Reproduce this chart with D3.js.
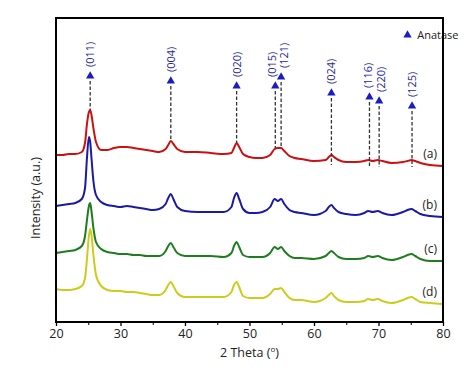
<!DOCTYPE html>
<html>
<head>
<meta charset="utf-8">
<script src="https://cdn.jsdelivr.net/npm/d3@7"></script>
<style>
    body { margin: 0; background: #fff; }
    text { font-family: "Open Sans", sans-serif; }
</style>
</head>
<body>
<svg id="chart"></svg>
<script>
// XRD patterns, four samples stacked with offsets
// --------------------------------------------------------

// 0. Data (intensity in a.u.)
    const twoTheta = [20, 21, 22, 23, 24, 24.5, 24.8, 25.1, 25.3, 25.5, 25.8, 26.2, 27, 28, 29, 30, 31, 32, 33, 34, 35, 36,
        37, 37.4, 37.8, 38.2, 38.8, 40, 42, 44, 46, 47.2, 47.6, 48.0, 48.4, 49, 50, 51, 52, 53.2, 53.9, 54.4, 54.9, 55.4,
        56.2, 57, 58, 60, 61.8, 62.3, 62.7, 63.1, 63.8, 65, 66.5, 67.8, 68.4, 69.1, 69.9, 70.6, 72, 73.8, 74.5, 75.1,
        75.7, 76.5, 78, 80];

    const sampleA = [167, 167, 168, 168, 170, 179, 198, 210, 212, 207, 194, 180, 172, 172, 174, 175, 175, 174, 173, 172, 171, 170,
        173, 177, 181, 178, 173, 170, 170, 169, 168, 169, 174, 179, 175, 168, 165, 164, 164, 167, 173, 174, 174, 171,
        166, 164, 163, 161, 162, 165, 167, 165, 162, 160, 160, 161, 162, 161, 162, 161, 159, 160, 161, 162,
        161, 159, 157, 156];
    const sampleB = [116, 117, 118, 119, 123, 134, 164, 185, 180, 164, 141, 127, 120, 117, 116, 115, 116, 115, 114, 113, 112, 113,
        118, 124, 128, 123, 115, 111, 110, 110, 110, 115, 124, 129, 123, 113, 109, 109, 110, 115, 123, 121, 123, 118,
        112, 110, 109, 107, 111, 115, 117, 114, 110, 108, 107, 109, 111, 110, 111, 109, 107, 110, 112, 113,
        111, 108, 106, 105];
    const sampleC = [69, 70, 71, 72, 76, 86, 102, 116, 119, 111, 94, 80, 73, 70, 69, 68, 68, 67, 67, 66, 66, 66,
        71, 76, 79, 75, 69, 66, 66, 66, 65, 69, 76, 80, 75, 67, 65, 65, 65, 69, 75, 73, 75, 71,
        66, 64, 64, 63, 66, 69, 71, 69, 65, 63, 63, 64, 66, 65, 66, 64, 62, 65, 67, 68,
        66, 63, 61, 61];
    const sampleD = [33, 32, 32, 33, 36, 44, 63, 86, 93, 87, 67, 47, 36, 32, 31, 31, 30, 30, 29, 28, 27, 27,
        32, 37, 40, 36, 29, 25, 25, 25, 25, 30, 37, 40, 35, 26, 24, 24, 24, 28, 33, 33, 34, 30,
        24, 22, 22, 20, 24, 27, 29, 26, 22, 20, 20, 21, 23, 22, 23, 21, 19, 22, 24, 25,
        23, 20, 19, 18];

    const sampleNames = ['(a)', '(b)', '(c)', '(d)'];
    const sampleColors = ['#cc1010', '#1a1aa6', '#1f7d1f', '#cccc1c'];

    // anatase reflections
    const peakLabels = ['(011)', '(004)', '(020)', '(015)', '(121)', '(024)', '(116)', '(220)', '(125)'];
    const peakPositions = [25.3, 37.8, 48.0, 54.0, 54.9, 62.7, 68.6, 70.1, 75.2];
    const markerLevels = [246, 241, 236, 236, 245, 229, 225, 221, 216];
    const dropLevels = [212, 182, 179, 174, 174, 157, 155, 155, 155];

    const xTicks = [20, 30, 40, 50, 60, 70, 80];
    const xMinorTicks = [25, 35, 45, 55, 65, 75];

// 1. SVG canvas
    const width = 474;
    const height = 378;
    const padding = { top: 18, right: 31, bottom: 56, left: 56 };

    const svg = d3.select('#chart')
        .attr('width', width)
        .attr('height', height);

// 2. Scales
    const xScale = d3.scaleLinear()
        .domain([20, 80])
        .range([padding.left, width - padding.right]);
    const yScale = d3.scaleLinear()
        .domain([0, 304])
        .range([height - padding.bottom, padding.top]);

    const series = [sampleA, sampleB, sampleC, sampleD].map((vals, i) => ({
        name: sampleNames[i],
        color: sampleColors[i],
        points: twoTheta.map((t, j) => [t, vals[j]])
    }));

// 3. Draw traces
    const line = d3.line()
        .x(d => xScale(d[0]))
        .y(d => yScale(d[1]))
        .curve(d3.curveMonotoneX);

    svg.selectAll('.trace')
        .data(series.slice().reverse())
        .enter()
        .append('path')
            .attr('class', 'trace')
            .attr('d', d => line(d.points))
            .attr('fill', 'none')
            .attr('stroke', d => d.color)
            .attr('stroke-width', 2)
            .attr('stroke-linejoin', 'round');

    // sample labels at right end
    svg.selectAll('.sample-label')
        .data(series)
        .enter()
        .append('text')
            .attr('class', 'sample-label')
            .attr('x', xScale(80) - 6)
            .attr('y', d => yScale(d.points[d.points.length - 1][1]) - 8)
            .attr('text-anchor', 'end')
            .attr('font-size', 12)
            .attr('fill', '#222')
            .text(d => d.name);

// 4. Peak markers
    const peaks = peakLabels.map((label, i) => ({
        label: label,
        pos: peakPositions[i],
        top: markerLevels[i],
        drop: dropLevels[i]
    }));
    const nudge = { '(015)': -3, '(121)': 3, '(116)': -1, '(220)': 2 };
    const tri = d3.symbol().type(d3.symbolTriangle).size(30);

    const peak = svg.selectAll('.peak')
        .data(peaks)
        .enter()
        .append('g')
            .attr('class', 'peak');

    peak.append('line')
        .attr('x1', d => xScale(d.pos))
        .attr('x2', d => xScale(d.pos))
        .attr('y1', d => yScale(d.top) + 5)
        .attr('y2', d => yScale(d.drop))
        .attr('stroke', '#333')
        .attr('stroke-width', 1.3)
        .attr('stroke-dasharray', '3.5,2');

    peak.append('path')
        .attr('d', tri)
        .attr('transform', d => `translate(${xScale(d.pos)},${yScale(d.top)})`)
        .attr('fill', '#1c1cc4');

    peak.append('text')
        .attr('transform', d => `translate(${xScale(d.pos) + (nudge[d.label] || 0) + 4},${yScale(d.top) - 9}) rotate(-90)`)
        .attr('text-anchor', 'start')
        .attr('font-size', 11)
        .attr('fill', '#26269e')
        .text(d => d.label);

    // legend
    svg.append('path')
        .attr('d', tri)
        .attr('transform', `translate(${xScale(74.5)},35)`)
        .attr('fill', '#1c1cc4');
    svg.append('text')
        .attr('x', xScale(76.0))
        .attr('y', 39)
        .attr('font-size', 11)
        .attr('fill', '#222')
        .text('Anatase');

// 5. Axes and frame
    svg.append('rect')
        .attr('x', padding.left)
        .attr('y', padding.top)
        .attr('width', width - padding.left - padding.right)
        .attr('height', height - padding.top - padding.bottom)
        .attr('fill', 'none')
        .attr('stroke', '#000')
        .attr('stroke-width', 2);

    const xAxis = svg.append('g')
        .attr('class', 'bottom-axis')
        .attr('transform', `translate(0,${height - padding.bottom})`)
        .call(d3.axisBottom(xScale)
            .tickValues(xTicks)
            .tickSize(4)
            .tickSizeOuter(0)
            .tickPadding(3));
    xAxis.select('.domain').remove();
    xAxis.selectAll('.tick line').attr('stroke-width', 1.3);
    xAxis.selectAll('.tick text')
        .attr('font-size', 12.5)
        .attr('font-family', '"Open Sans", sans-serif')
        .attr('fill', '#222');

    const xMinor = svg.append('g')
        .attr('transform', `translate(0,${height - padding.bottom})`)
        .call(d3.axisBottom(xScale)
            .tickValues(xMinorTicks)
            .tickSize(3)
            .tickFormat(''));
    xMinor.select('.domain').remove();

    const xLabel = svg.append('text')
        .attr('x', (padding.left + width - padding.right) / 2)
        .attr('y', 357)
        .attr('text-anchor', 'middle')
        .attr('font-size', 12.5)
        .attr('fill', '#222');
    xLabel.append('tspan').text('2 Theta (');
    xLabel.append('tspan').attr('font-size', 8).attr('dy', -5).text('o');
    xLabel.append('tspan').attr('dy', 5).text(')');

    svg.append('text')
        .attr('transform', `translate(40,198) rotate(-90)`)
        .attr('text-anchor', 'middle')
        .attr('font-size', 12.5)
        .attr('fill', '#222')
        .text('Intensity (a.u.)');
</script>
</body>
</html>
